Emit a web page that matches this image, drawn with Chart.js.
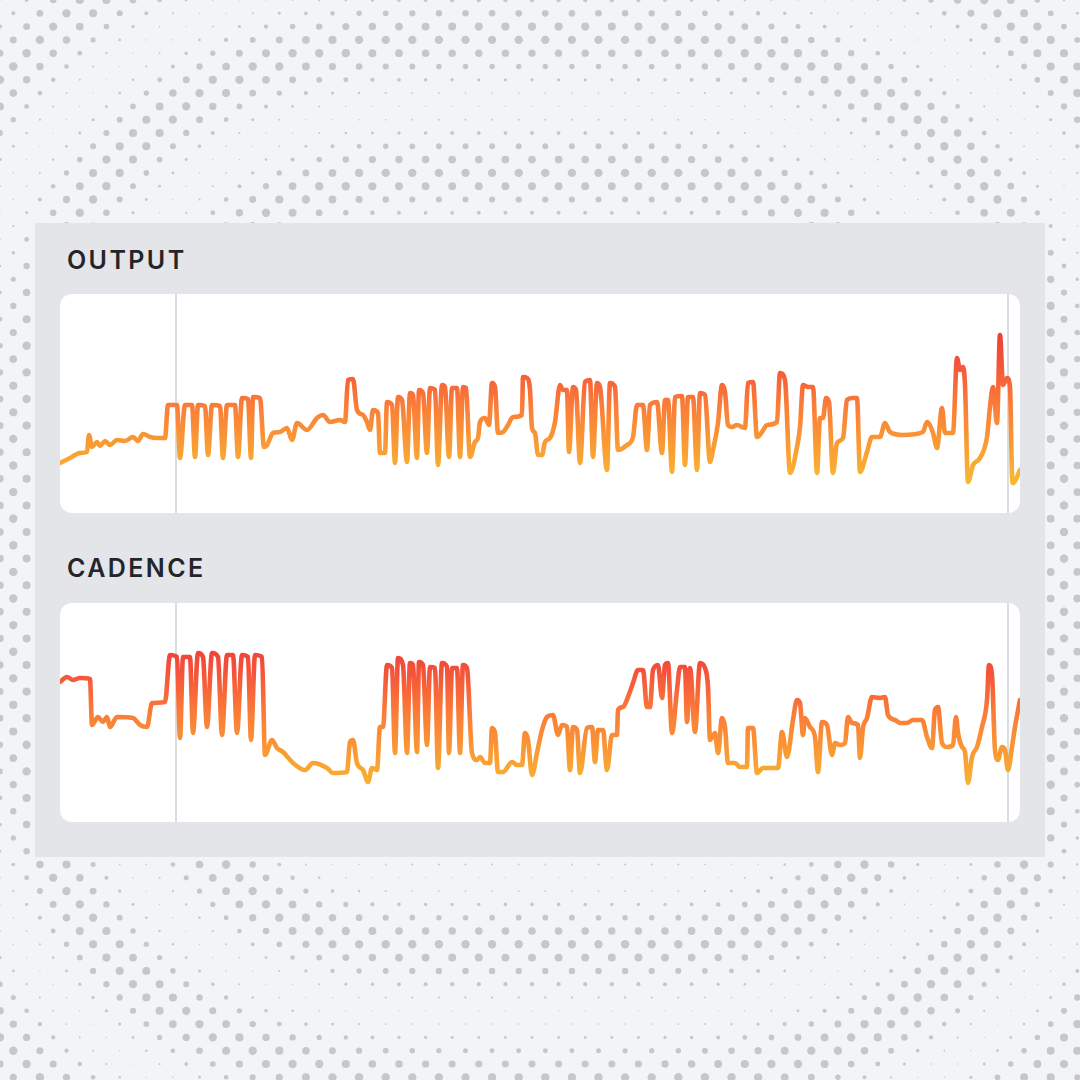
<!DOCTYPE html>
<html lang="en">
<head>
    <meta charset="UTF-8">
    <title>Output / Cadence</title>
    <style>
        body {
            margin: 0;
            width: 1080px;
            height: 1080px;
            overflow: hidden;
            background: #f3f4f6;
            font-family: Inter, "Open Sans", Arial, sans-serif;
        }
        #dots {
            position: absolute;
            left: 0;
            top: 0;
        }
        .panel {
            position: absolute;
            left: 35px;
            top: 223px;
            width: 1010px;
            height: 634px;
            background: #e4e5e8;
        }
        .label {
            position: absolute;
            left: 32px;
            font-size: 25px;
            line-height: 25px;
            font-weight: 600;
            letter-spacing: 2.4px;
            color: #23252a;
        }
        .box {
            position: absolute;
            left: 25px;
            width: 960px;
            height: 219px;
            background: #fff;
            border-radius: 12px;
            overflow: hidden;
        }
    </style>
    <script src="https://cdn.jsdelivr.net/npm/chart.js"></script>
</head>
<body>
    <canvas id="dots" width="1080" height="1080"></canvas>
    <div class="panel">
        <div class="label" style="top:25px">OUTPUT</div>
        <div class="box" style="top:71px"><canvas id="outputChart"></canvas></div>
        <div class="label" style="top:333px">CADENCE</div>
        <div class="box" style="top:380px"><canvas id="cadenceChart"></canvas></div>
    </div>

    <script>
        // values (time index, height)
        const outputTime = [0,10,20,27,29,32,37,40,45,50,57,65,73,78,83,90,97,105,
            108,117,120,125,132,135,138,145,148,152,160,163,167,175,178,182,188,191,193,200,204,
            207,213,220,227,232,237,247,257,263,270,280,285,288,293,297,303,307,310,313,318,
            320,325,327,332,335,338,342,347,350,353,357,359,363,367,370,375,378,382,385,389,392,397,400,403,406,410,
            415,418,420,425,429,432,435,438,443,448,453,462,463,467,470,472,475,478,482,485,490,495,
            500,503,507,509,513,516,520,525,530,533,537,540,547,550,555,558,567,573,577,583,587,590,597,602,605,608,612,615,622,625,628,
            633,637,640,645,650,653,658,662,665,668,672,677,685,688,693,697,702,707,717,720,725,730,737,740,743,748,753,757,760,763,766,769,773,777,783,787,793,797,800,
            807,812,820,825,830,843,863,867,873,877,882,885,893,897,900,903,905,908,913,920,927,930,933,937,940,943,947,950,952,953,960];
        const outputValues = [50,55,60,61,78,66,71,67,72,68,73,72,76,72,79,76,75,75,
            108,108,55,108,108,56,108,107,58,108,107,55,108,108,56,115,114,55,116,115,66,
            68,80,81,85,73,90,83,95,98,91,93,91,133,134,103,98,91,83,103,100,
            60,60,111,108,50,116,113,51,120,118,55,123,120,60,125,123,48,128,126,56,125,125,56,126,125,56,
            71,75,91,95,88,130,126,80,81,88,96,98,136,135,123,85,80,58,58,71,75,91,
            128,123,123,61,126,123,50,131,133,56,130,126,43,130,126,63,68,76,108,108,63,108,111,60,113,113,41,116,117,48,116,
            116,43,120,118,51,63,90,128,121,88,86,88,85,130,131,76,81,88,91,140,133,40,66,86,128,126,126,40,95,95,115,111,40,70,75,113,115,115,41,
            61,76,76,90,81,78,81,91,80,65,105,80,80,155,143,146,128,31,48,55,76,106,126,90,178,128,135,126,38,30,43];

        const cadenceTime = [0,7,13,20,30,32,38,43,47,50,57,73,80,87,92,105,
            110,117,120,123,130,133,138,143,147,152,158,162,167,173,177,182,188,191,195,202,
            205,212,217,223,233,245,253,267,273,287,290,293,297,303,308,312,317,320,323,
            327,332,335,338,343,347,350,353,357,359,363,367,370,375,378,382,387,389,392,397,400,403,407,412,
            417,420,425,430,432,435,438,443,452,457,462,465,468,472,477,482,487,493,498,502,507,510,513,517,520,527,532,535,538,543,547,552,557,
            558,563,568,573,578,583,587,590,593,598,602,605,608,612,617,620,625,627,630,635,640,645,648,650,655,658,662,665,668,675,680,687,688,693,697,703,718,
            722,727,733,737,740,743,745,750,755,758,762,767,772,775,780,785,788,792,798,800,803,807,812,820,825,828,835,840,847,853,862,
            867,872,875,878,882,887,893,896,898,902,905,908,912,917,922,927,929,932,935,938,942,945,948,952,955,960];
        const cadenceValues = [140,145,142,144,143,97,105,100,105,95,105,104,97,95,119,120,
            167,165,84,165,165,89,169,165,95,169,165,87,167,167,89,167,165,82,167,165,
            67,82,74,70,59,52,59,54,49,50,80,82,59,52,40,54,52,95,95,
            157,154,69,164,157,69,159,157,70,160,157,77,155,154,54,159,155,69,154,154,69,157,154,69,
            62,65,59,59,94,89,50,50,60,57,57,89,82,47,69,92,105,107,87,97,95,52,95,92,49,94,95,60,92,92,52,87,87,
            112,115,125,139,152,152,115,115,152,157,124,157,159,89,132,155,155,100,154,90,159,154,135,82,89,69,104,95,59,59,55,55,94,94,49,54,54,
            90,65,102,122,119,87,104,95,85,50,100,97,67,79,77,79,105,99,97,64,94,104,125,124,125,107,102,99,99,102,102,
            85,74,112,115,79,75,77,105,89,75,70,39,65,75,95,122,157,147,72,62,75,72,52,75,95,122];

        // lap markers (time index)
        const markers = [116, 948];

        // halftone background
        (function () {
            const c = document.getElementById('dots').getContext('2d');
            c.fillStyle = '#c6c7ca';
            const s = 13.3;
            for (let j = -1; j * s < 1100; j++) {
                for (let i = -1; i * 2 * s < 1100; i++) {
                    const x = i * 2 * s + (j % 2 ? s : 0);
                    const y = j * s;
                    const d = Math.hypot(x - 540, y - 560);
                    const a = Math.atan2(y - 560, x - 540);
                    const f = 0.5 + 0.5 * Math.cos(d / 22 + Math.cos(a * 4) * 1.3);
                    const r = 0.6 + 3.6 * f;
                    c.beginPath();
                    c.arc(x, y, r, 0, Math.PI * 2);
                    c.fill();
                }
            }
        })();

        function lineGradient(context) {
            const area = context.chart.chartArea;
            if (!area) return '#fb7c38';
            const g = context.chart.ctx.createLinearGradient(0, area.top, 0, area.bottom);
            g.addColorStop(0.15, '#ee3b36');
            g.addColorStop(0.3, '#f4503a');
            g.addColorStop(0.52, '#fa7f38');
            g.addColorStop(0.78, '#f9aa32');
            g.addColorStop(0.9, '#f6c22d');
            return g;
        }

        const markerLines = {
            id: 'markerLines',
            beforeDatasetsDraw(chart) {
                const ctx = chart.ctx;
                const area = chart.chartArea;
                ctx.save();
                ctx.strokeStyle = '#dcdde0';
                ctx.lineWidth = 2;
                markers.forEach(m => {
                    const x = Math.round(chart.scales.x.getPixelForValue(m));
                    ctx.beginPath();
                    ctx.moveTo(x, area.top);
                    ctx.lineTo(x, area.bottom);
                    ctx.stroke();
                });
                ctx.restore();
            }
        };

        function makeChart(id, times, values) {
            return new Chart(document.getElementById(id), {
                type: 'line',
                data: {
                    datasets: [{
                        data: times.map((t, i) => ({ x: t, y: values[i] })),
                        borderColor: lineGradient,
                        borderWidth: 4.6,
                        pointRadius: 0,
                        cubicInterpolationMode: 'monotone',
                        borderJoinStyle: 'round',
                        borderCapStyle: 'round',
                        fill: false
                    }]
                },
                options: {
                    responsive: true,
                    maintainAspectRatio: false,
                    animation: false,
                    layout: { padding: 0 },
                    plugins: { legend: { display: false }, tooltip: { enabled: false } },
                    scales: {
                        x: { type: 'linear', min: 0, max: 960, display: false },
                        y: { min: 0, max: 219, display: false }
                    }
                },
                plugins: [markerLines]
            });
        }

        makeChart('outputChart', outputTime, outputValues);
        makeChart('cadenceChart', cadenceTime, cadenceValues);
    </script>
</body>
</html>
